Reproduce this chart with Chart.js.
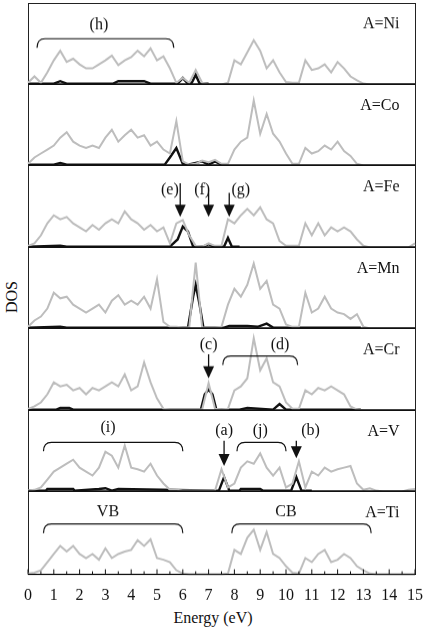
<!DOCTYPE html>
<html><head><meta charset="utf-8">
<script src="https://cdn.jsdelivr.net/npm/chart.js@4.4.1/dist/chart.umd.min.js"></script>
<style>
  html, body { margin: 0; padding: 0; background: #fff; }
  #wrap { position: relative; width: 426px; height: 631px; font-family: "Liberation Serif", "DejaVu Serif", serif; color: #111; }
  #frame { position: absolute; left: 28px; top: 3px; width: 386px; height: 570px; border: 1px solid #222; }
  #ylab { position: absolute; left: -8px; top: 288px; width: 40px; text-align: center; transform: rotate(-90deg); font-size: 16px; }
  #xlab { position: absolute; left: 0; width: 426px; top: 609px; text-align: center; font-size: 16px; }
</style>
</head><body>
<div id="wrap">
  <div id="frame"></div>
  <div id="ylab">DOS</div>
  <div id="xlab">Energy (eV)</div>
</div>
<script>
// energy grid for the total DOS (eV), 0.25 eV steps
const energy = [];
for (let i = 0; i <= 60; i++) energy.push(i * 0.25);

// total DOS (grey), fraction of panel height
const dosNi = [0.02,0.1,0.02,0.15,0.3,0.42,0.28,0.32,0.25,0.2,0.2,0.25,0.3,0.36,0.24,0.3,0.34,0.42,0.35,0.45,0.3,0.35,0.2,0.02,0.08,0.02,0.18,0.02,0,0,0,0.02,0.3,0.25,0.4,0.55,0.42,0.2,0.3,0.15,0.03,0.02,0.02,0.3,0.18,0.2,0.25,0.15,0.28,0.2,0.1,0.05,0.01,0,0,0,0,0,0,0,0];
const dosCo = [0.02,0.1,0.15,0.2,0.25,0.35,0.42,0.3,0.25,0.22,0.25,0.22,0.35,0.45,0.3,0.38,0.45,0.35,0.38,0.25,0.3,0.2,0.15,0.56,0.05,0.01,0.02,0.06,0.04,0.07,0.02,0.02,0.2,0.3,0.35,0.82,0.4,0.65,0.4,0.3,0.15,0.02,0.02,0.22,0.15,0.18,0.25,0.2,0.3,0.18,0.12,0.02,0,0,0,0,0,0,0,0,0];
const dosFe = [0.02,0.05,0.15,0.3,0.4,0.35,0.38,0.3,0.25,0.2,0.28,0.22,0.3,0.35,0.3,0.45,0.35,0.3,0.22,0.28,0.2,0.25,0.05,0.3,0.34,0.15,0.02,0.01,0.05,0.02,0.02,0.35,0.3,0.4,0.48,0.4,0.5,0.35,0.3,0.08,0.02,0.02,0.02,0.3,0.15,0.3,0.15,0.25,0.2,0.25,0.2,0.1,0.02,0,0,0,0,0,0,0,0.05];
const dosMn = [0.02,0.1,0.15,0.25,0.45,0.38,0.4,0.3,0.25,0.2,0.25,0.3,0.2,0.35,0.42,0.3,0.35,0.3,0.4,0.25,0.62,0.08,0.02,0.02,0.01,0.01,0.83,0.01,0.01,0.01,0.02,0.3,0.5,0.4,0.55,0.82,0.5,0.6,0.3,0.25,0.05,0.02,0.02,0.45,0.2,0.25,0.4,0.25,0.2,0.18,0.12,0.18,0.02,0,0,0,0,0,0,0,0];
const dosCr = [0.02,0.05,0.1,0.2,0.35,0.3,0.32,0.25,0.28,0.2,0.28,0.25,0.3,0.35,0.3,0.45,0.25,0.3,0.6,0.35,0.15,0.02,0.01,0.01,0.01,0.01,0.01,0.01,0.34,0.02,0.01,0.02,0.25,0.3,0.4,0.9,0.5,0.65,0.35,0.3,0.1,0.02,0.02,0.25,0.2,0.28,0.25,0.3,0.25,0.2,0.05,0.01,0,0,0,0,0,0,0,0,0];
const dosV  = [0.01,0.02,0.05,0.15,0.25,0.3,0.35,0.4,0.3,0.25,0.2,0.3,0.5,0.45,0.3,0.58,0.3,0.28,0.25,0.35,0.2,0.1,0.02,0.02,0.01,0.01,0.01,0.01,0.01,0.01,0.28,0.05,0.1,0.3,0.38,0.35,0.48,0.3,0.2,0.3,0.05,0.1,0.38,0.05,0.25,0.2,0.3,0.25,0.28,0.3,0.32,0.1,0.02,0.04,0.01,0,0,0,0,0.02,0.03];
const dosTi = [0.01,0.02,0.05,0.15,0.25,0.35,0.28,0.35,0.25,0.2,0.25,0.18,0.32,0.2,0.25,0.28,0.3,0.42,0.35,0.43,0.2,0.18,0.15,0.05,0.01,0,0,0,0,0,0,0.01,0.3,0.25,0.45,0.55,0.3,0.52,0.25,0.2,0.1,0.02,0.01,0.2,0.15,0.25,0.3,0.15,0.18,0.25,0.2,0.1,0.05,0.01,0,0,0,0,0,0,0];

// partial DOS of A (black): energies and values
const pdosNiE = [0,1.0,1.25,1.5,3.3,3.5,4.0,4.5,4.75,5.5,5.8,6.0,6.2,6.35,6.5,6.65,7.0];
const pdosNiV = [0.01,0.01,0.04,0.01,0.01,0.04,0.04,0.04,0.01,0.01,0.01,0.08,0.01,0.02,0.12,0.01,0.01];
const pdosCoE = [0,1.0,1.25,1.5,5.3,5.5,5.75,6.0,6.2,6.75,7.0,7.25,7.5];
const pdosCoV = [0.01,0.01,0.03,0.01,0.01,0.1,0.22,0.02,0.01,0.05,0.01,0.05,0.01];
const pdosFeE = [0,1.25,1.5,5.5,5.8,6.0,6.2,6.4,6.8,7.0,7.2,7.6,7.75,7.9,8.2];
const pdosFeV = [0.01,0.02,0.01,0.01,0.1,0.26,0.2,0.01,0.01,0.04,0.01,0.01,0.12,0.01,0.01];
const pdosMnE = [0,1.25,1.5,6.2,6.4,6.5,6.65,6.8,7.6,7.8,8.5,8.9,9.25,9.5,12.9];
const pdosMnV = [0.01,0.02,0.01,0.01,0.4,0.55,0.3,0.01,0.01,0.03,0.03,0.02,0.06,0.01,0.01];
const pdosCrE = [0,1.1,1.25,1.6,1.75,6.7,6.85,7.0,7.15,7.3,8.2,8.5,9.5,9.75,10.0,12.9];
const pdosCrV = [0.01,0.01,0.03,0.03,0.01,0.01,0.2,0.26,0.2,0.01,0.01,0.03,0.01,0.08,0.01,0.01];
const pdosVE = [0,0.7,0.75,1.75,1.8,2.75,3.0,3.25,3.5,7.4,7.6,7.8,8.2,8.25,9.0,9.1,10.2,10.4,10.6,11.0];
const pdosVV = [0.01,0.01,0.03,0.03,0.01,0.03,0.04,0.01,0.03,0.01,0.18,0.01,0.01,0.03,0.03,0.01,0.01,0.18,0.01,0.01];

const xTicks = [0,1,2,3,4,5,6,7,8,9,10,11,12,13,14,15];

const GREY = '#bdbdbd', INK = '#111';
const SERIF = '"Liberation Serif", "DejaVu Serif", serif';

const panels = [
  { name: 'A=Ni', dos: dosNi, pe: pdosNiE, pv: pdosNiV,
    brackets: [[0.35, 5.65, 0.57]], labels: [['(h)', 2.75, 0.74]], arrows: [] },
  { name: 'A=Co', dos: dosCo, pe: pdosCoE, pv: pdosCoV, brackets: [], labels: [], arrows: [] },
  { name: 'A=Fe', dos: dosFe, pe: pdosFeE, pv: pdosFeV, brackets: [],
    labels: [['(e)', 5.5, 0.72], ['(f)', 6.75, 0.72], ['(g)', 8.25, 0.72]],
    arrows: [[5.9, 0.8, 0.38], [7.0, 0.68, 0.38], [7.8, 0.68, 0.38]] },
  { name: 'A=Mn', dos: dosMn, pe: pdosMnE, pv: pdosMnV, brackets: [], labels: [], arrows: [] },
  { name: 'A=Cr', dos: dosCr, pe: pdosCrE, pv: pdosCrV,
    brackets: [[7.55, 10.45, 0.68]], labels: [['(c)', 7.0, 0.82], ['(d)', 9.77, 0.82]],
    arrows: [[7.0, 0.7, 0.4]] },
  { name: 'A=V', dos: dosV, pe: pdosVE, pv: pdosVV,
    brackets: [[0.6, 6.0, 0.62], [8.1, 10.0, 0.62]],
    labels: [['(i)', 3.1, 0.8], ['(a)', 7.6, 0.77], ['(j)', 9.0, 0.77], ['(b)', 10.95, 0.77]],
    arrows: [[7.6, 0.64, 0.32], [10.4, 0.64, 0.42]] },
  { name: 'A=Ti', dos: dosTi, pe: null, pv: null,
    brackets: [[0.6, 6.0, 0.62], [7.9, 13.3, 0.62]], labels: [['VB', 3.1, 0.77], ['CB', 10.0, 0.77]],
    arrows: [] },
];

const PANEL_TOP = 3, PANEL_H = 81.57, LEFT = 28, WIDTH = 387;

const decorPlugin = {
  id: 'decor',
  afterDatasetsDraw(chart) {
    const p = chart.options.plugins.decor.panel;
    const last = chart.options.plugins.decor.last;
    const { ctx, chartArea: ca } = chart;
    const xs = chart.scales.x, ys = chart.scales.y;
    ctx.save();
    ctx.fillStyle = INK; ctx.strokeStyle = INK;
    ctx.font = '16px ' + SERIF;
    ctx.textBaseline = 'middle';
    ctx.textAlign = 'right';
    ctx.fillText(p.name, xs.getPixelForValue(14.4), ca.top + 20);
    ctx.textAlign = 'center';
    p.labels.forEach(([t, x, y]) => ctx.fillText(t, xs.getPixelForValue(x), ys.getPixelForValue(y)));
    ctx.lineWidth = 1.2;
    p.brackets.forEach(([x1, x2, y]) => {
      const a = xs.getPixelForValue(x1), b = xs.getPixelForValue(x2), yy = ys.getPixelForValue(y);
      ctx.beginPath();
      ctx.moveTo(a, yy + 9);
      ctx.quadraticCurveTo(a, yy, a + 8, yy);
      ctx.lineTo(b - 8, yy);
      ctx.quadraticCurveTo(b, yy, b, yy + 9);
      ctx.stroke();
    });
    p.arrows.forEach(([x, y1, y2]) => {
      const px = xs.getPixelForValue(x), a = ys.getPixelForValue(y1), b = ys.getPixelForValue(y2);
      ctx.lineWidth = 1.3;
      ctx.beginPath(); ctx.moveTo(px, a); ctx.lineTo(px, b - 10); ctx.stroke();
      ctx.beginPath(); ctx.moveTo(px - 5.5, b - 12); ctx.lineTo(px + 5.5, b - 12); ctx.lineTo(px, b); ctx.closePath(); ctx.fill();
    });
    // separator / axis line at bottom
    ctx.lineWidth = last ? 1 : 2.2;
    ctx.beginPath(); ctx.moveTo(ca.left, ca.bottom); ctx.lineTo(ca.right, ca.bottom); ctx.stroke();
    if (last) {
      ctx.lineWidth = 1;
      xTicks.forEach(v => {
        const px = xs.getPixelForValue(v);
        ctx.beginPath(); ctx.moveTo(px, ca.bottom); ctx.lineTo(px, ca.bottom - 5); ctx.stroke();
        if (v < 15) {
          const m = xs.getPixelForValue(v + 0.5);
          ctx.beginPath(); ctx.moveTo(m, ca.bottom); ctx.lineTo(m, ca.bottom - 3); ctx.stroke();
        }
      });
    }
    ctx.restore();
  }
};

const wrap = document.getElementById('wrap');
panels.forEach((p, i) => {
  const last = i === panels.length - 1;
  const top = PANEL_TOP + i * PANEL_H;
  const pad = 14;
  const w = WIDTH + 2 * pad, h = PANEL_H + (last ? 34 : 0);
  const box = document.createElement('div');
  box.style.cssText = 'position:absolute;left:' + (LEFT - pad) + 'px;top:' + top + 'px;width:' + w + 'px;height:' + h + 'px';
  const c = document.createElement('canvas');
  box.appendChild(c);
  wrap.appendChild(box);

  const datasets = [{
    data: energy.map((e, k) => ({ x: e, y: p.dos[k] })),
    borderColor: GREY, borderWidth: 2, pointRadius: 0, tension: 0, clip: false,
  }];
  if (p.pe) datasets.push({
    data: p.pe.map((e, k) => ({ x: e, y: p.pv[k] })),
    borderColor: INK, borderWidth: 2.4, pointRadius: 0, tension: 0, clip: false,
  });

  const xScale = {
    type: 'linear', min: 0, max: 15, display: last,
    grid: { display: false }, border: { display: false },
    ticks: { stepSize: 1, color: INK, padding: 4, font: { family: SERIF, size: 16 } },
  };
  if (last) xScale.afterFit = s => { s.height = 34; };

  new Chart(c, {
    type: 'line',
    data: { datasets },
    options: {
      responsive: true, maintainAspectRatio: false, animation: false,
      layout: { padding: { left: pad, right: pad, top: 0, bottom: 0 } },
      plugins: { legend: { display: false }, tooltip: { enabled: false }, decor: { panel: p, last } },
      scales: { x: xScale, y: { min: 0, max: 1, display: false } },
    },
    plugins: [decorPlugin],
  });
});
</script>
</body></html>
